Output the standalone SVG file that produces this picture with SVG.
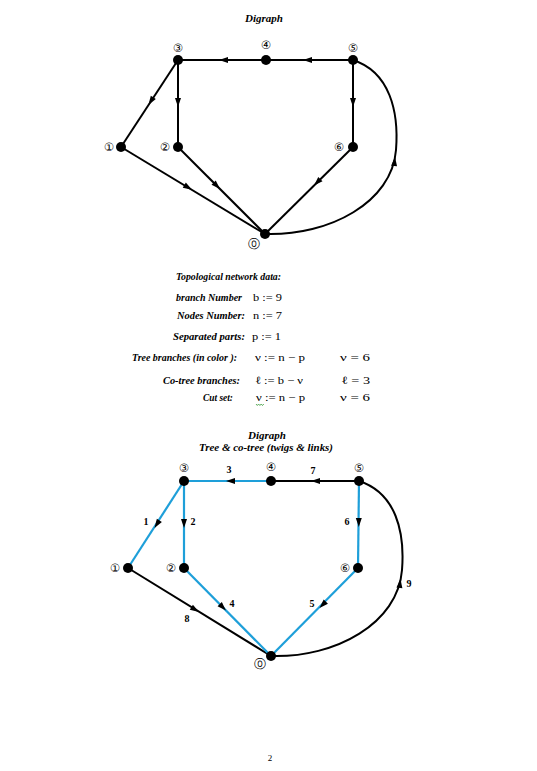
<svg xmlns="http://www.w3.org/2000/svg" width="537" height="771" viewBox="0 0 537 771">
<style>
.bg{fill:#ffffff}
.e{fill:none;stroke:#000;stroke-width:2}
.t{fill:none;stroke:#1e9fd9;stroke-width:2.2}
.n{fill:#000}
.nl{font-family:"DejaVu Sans",sans-serif;font-size:11.5px;text-anchor:middle;fill:#000}
.el{font-family:"Liberation Serif",serif;font-size:10px;font-weight:bold;text-anchor:middle;fill:#000}
.title{font-family:"Liberation Serif",serif;font-size:11px;font-weight:bold;font-style:italic;text-anchor:middle;fill:#000}
.lab{font-family:"Liberation Serif",serif;font-size:11px;font-weight:bold;font-style:italic;fill:#000;text-anchor:end}
.m{font-family:"Liberation Serif","DejaVu Serif",serif;font-size:11px;fill:#000}
.pg{font-family:"Liberation Serif",serif;font-size:9px;text-anchor:middle;fill:#000}
</style>
<defs>
<path id="ah" d="M0,0 L-9,-3 L-9,3 Z" fill="#000"/>
</defs>
<rect class="bg" x="0" y="0" width="537" height="771"/>

<text class="title" x="264" y="22">Digraph</text>

<!-- Top graph connectors -->
<g id="connectors-top">
<line class="e" x1="266" y1="60" x2="178" y2="60"/>
<line class="e" x1="353" y1="60" x2="266" y2="60"/>
<line class="e" x1="178" y1="60" x2="121" y2="147"/>
<line class="e" x1="178" y1="60" x2="178" y2="147"/>
<line class="e" x1="353" y1="60" x2="353" y2="147"/>
<line class="e" x1="121" y1="147" x2="265" y2="234"/>
<line class="e" x1="178" y1="147" x2="265" y2="234"/>
<line class="e" x1="353" y1="147" x2="265" y2="234"/>
<path class="e" d="M353,60 C390,72 399,112 396,150 C392,202 330,236 265,234"/>
<use href="#ah" transform="translate(219,60) rotate(180)"/>
<use href="#ah" transform="translate(303,60) rotate(180)"/>
<use href="#ah" transform="translate(148.4,105) rotate(123.2)"/>
<use href="#ah" transform="translate(178,107) rotate(90)"/>
<use href="#ah" transform="translate(353,107) rotate(90)"/>
<use href="#ah" transform="translate(192,189.8) rotate(31.1)"/>
<use href="#ah" transform="translate(220,189) rotate(45)"/>
<use href="#ah" transform="translate(314,185.5) rotate(135.3)"/>
<use href="#ah" transform="translate(395,157) rotate(-84)"/>
</g>

<!-- Top graph nodes -->
<g id="t-n3"><circle class="n" cx="178" cy="60" r="5"/><text class="nl" x="178" y="52">③</text></g>
<g id="t-n4"><circle class="n" cx="266" cy="60" r="5"/><text class="nl" x="266" y="49">④</text></g>
<g id="t-n5"><circle class="n" cx="353" cy="60" r="5"/><text class="nl" x="353" y="52">⑤</text></g>
<g id="t-n1"><circle class="n" cx="121" cy="147" r="5"/><text class="nl" x="109" y="151">①</text></g>
<g id="t-n2"><circle class="n" cx="178" cy="147" r="5"/><text class="nl" x="165" y="151">②</text></g>
<g id="t-n6"><circle class="n" cx="353" cy="147" r="5"/><text class="nl" x="339" y="151">⑥</text></g>
<g id="t-n0"><circle class="n" cx="265" cy="234" r="5"/><text class="nl" x="254" y="248">⓪</text></g>

<!-- Topological data -->
<g id="data">
<text class="lab" x="281" y="280" textLength="105" lengthAdjust="spacingAndGlyphs">Topological network data:</text>
<text class="lab" x="242" y="301" textLength="66" lengthAdjust="spacingAndGlyphs">branch Number</text>
<text class="m" x="253" y="301" textLength="29" lengthAdjust="spacingAndGlyphs">b := 9</text>
<text class="lab" x="245" y="319" textLength="68" lengthAdjust="spacingAndGlyphs">Nodes Number:</text>
<text class="m" x="253" y="319" textLength="29" lengthAdjust="spacingAndGlyphs">n := 7</text>
<text class="lab" x="245" y="340" textLength="72" lengthAdjust="spacingAndGlyphs">Separated parts:</text>
<text class="m" x="252" y="340" textLength="29" lengthAdjust="spacingAndGlyphs">p := 1</text>
<text class="lab" x="237" y="361" textLength="105" lengthAdjust="spacingAndGlyphs">Tree branches (in color ):</text>
<text class="m" x="255" y="361" textLength="50" lengthAdjust="spacingAndGlyphs">ν := n − p</text>
<text class="m" x="340" y="361" textLength="30" lengthAdjust="spacingAndGlyphs">ν = 6</text>
<text class="lab" x="240" y="384" textLength="77" lengthAdjust="spacingAndGlyphs">Co-tree branches:</text>
<text class="m" x="255" y="384" textLength="48" lengthAdjust="spacingAndGlyphs">ℓ := b − ν</text>
<text class="m" x="341" y="384" textLength="29" lengthAdjust="spacingAndGlyphs">ℓ = 3</text>
<text class="lab" x="233" y="401" textLength="30" lengthAdjust="spacingAndGlyphs">Cut set:</text>
<text class="m" x="256" y="401" textLength="49" lengthAdjust="spacingAndGlyphs">ν := n − p</text>
<text class="m" x="340" y="401" textLength="30" lengthAdjust="spacingAndGlyphs">ν = 6</text>
<path d="M256,404 l1.3,1.5 l1.3,-1.5 l1.3,1.5 l1.3,-1.5 l1.3,1.5 l1.3,-1.5" fill="none" stroke="#3a9a3a" stroke-width="0.8"/>
</g>

<text class="title" x="267" y="439">Digraph</text>
<text class="title" x="266" y="451" textLength="134" lengthAdjust="spacingAndGlyphs">Tree &amp; co-tree (twigs &amp; links)</text>

<!-- Bottom graph connectors -->
<g id="connectors-bottom">
<line class="t" x1="271" y1="481" x2="184" y2="481"/>
<line class="e" x1="359" y1="481" x2="271" y2="481"/>
<line class="t" x1="184" y1="481" x2="128" y2="568"/>
<line class="t" x1="184" y1="481" x2="184" y2="568"/>
<line class="t" x1="359" y1="481" x2="358" y2="568"/>
<line class="e" x1="128" y1="568" x2="271" y2="656"/>
<line class="t" x1="184" y1="568" x2="271" y2="656"/>
<line class="t" x1="358" y1="568" x2="271" y2="656"/>
<path class="e" d="M359,481 C396,493 405,532 402,570 C398,623 336,658 271,656"/>
<use href="#ah" transform="translate(226,481) rotate(180)"/>
<use href="#ah" transform="translate(311,481) rotate(180)"/>
<use href="#ah" transform="translate(154.5,528) rotate(122.8)"/>
<use href="#ah" transform="translate(184,528) rotate(90)"/>
<use href="#ah" transform="translate(358.8,527) rotate(90)"/>
<use href="#ah" transform="translate(199,612) rotate(31.6)"/>
<use href="#ah" transform="translate(226,610.5) rotate(45.3)"/>
<use href="#ah" transform="translate(319.5,608) rotate(134.7)"/>
<use href="#ah" transform="translate(400.5,579) rotate(-83)"/>
</g>
<g id="edge-labels">
<text class="el" x="146" y="524.5">1</text>
<text class="el" x="193" y="524.5">2</text>
<text class="el" x="229" y="472.5">3</text>
<text class="el" x="232" y="606.5">4</text>
<text class="el" x="312" y="606.5">5</text>
<text class="el" x="347" y="524.5">6</text>
<text class="el" x="313" y="473.5">7</text>
<text class="el" x="187" y="621.5">8</text>
<text class="el" x="409" y="586.5">9</text>
</g>

<!-- Bottom graph nodes -->
<g id="b-n3"><circle class="n" cx="184" cy="481" r="5"/><text class="nl" x="184" y="472">③</text></g>
<g id="b-n4"><circle class="n" cx="271" cy="481" r="5"/><text class="nl" x="271" y="471">④</text></g>
<g id="b-n5"><circle class="n" cx="359" cy="481" r="5"/><text class="nl" x="359" y="472">⑤</text></g>
<g id="b-n1"><circle class="n" cx="128" cy="568" r="5"/><text class="nl" x="115" y="572">①</text></g>
<g id="b-n2"><circle class="n" cx="184" cy="568" r="5"/><text class="nl" x="171" y="572">②</text></g>
<g id="b-n6"><circle class="n" cx="358" cy="568" r="5"/><text class="nl" x="345" y="572">⑥</text></g>
<g id="b-n0"><circle class="n" cx="271" cy="656" r="5"/><text class="nl" x="260" y="668">⓪</text></g>

<text class="pg" x="270" y="761">2</text>
</svg>
